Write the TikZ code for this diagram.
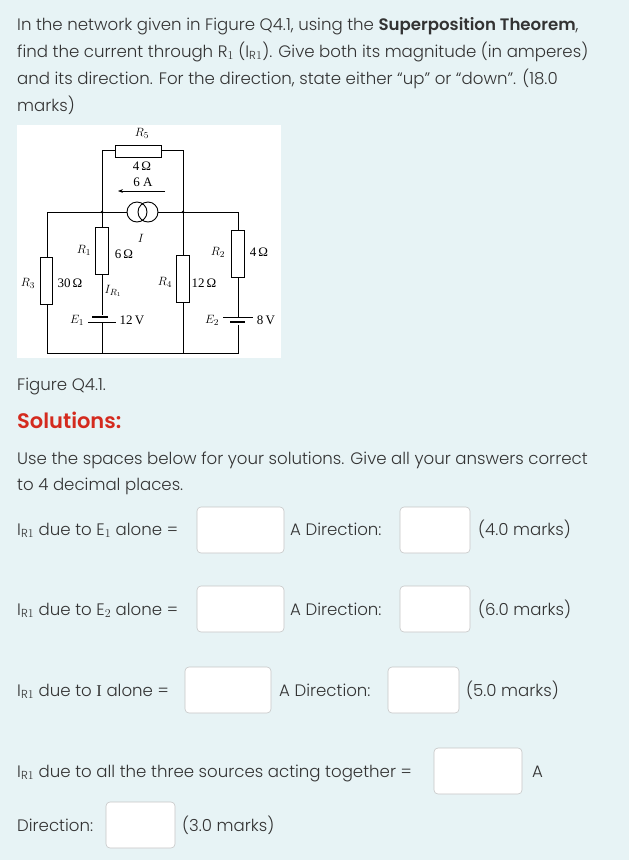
\documentclass[tikz,border=0pt]{standalone}
\usepackage{fontspec}
\setmainfont{Poppins}[UprightFont=*-Light,BoldFont=*-SemiBold]
\newfontfamily\cf{Liberation Serif}
\usetikzlibrary{arrows.meta}
\definecolor{bg}{HTML}{E7F3F5}
\definecolor{solred}{HTML}{D42A1E}
\definecolor{tx}{HTML}{333333}
\begin{document}
\begin{tikzpicture}[x=1pt,y=-1pt,
  txt/.style={anchor=base west,inner sep=0pt,text=tx,font=\fontsize{16.6}{18}\selectfont},
  ans/.style={draw=gray!45,fill=white,rounded corners=4pt,line width=0.6pt},
  lbl/.style={inner sep=0pt,font=\cf\fontsize{13}{14}\selectfont},
  res/.style={draw,line width=0.9pt,fill=white},
  w/.style={line width=0.6pt}]
\fill[bg] (0,0) rectangle (629,860);
\useasboundingbox (0,0) rectangle (629,860);
\node[txt] (p1) at (17,30) {In the network given in Figure Q4.1, using the \textbf{Superposition Theorem},};
\node[txt] (p2) at (17,57) {find the current through R$_1$ (I$_{\mathrm{R}1}$). Give both its magnitude (in amperes)};
\node[txt] (p3) at (17,84) {and its direction. For the direction, state either ``up'' or ``down''. (18.0};
\node[txt] (p4) at (17,111) {marks)};
% circuit
\fill[white] (17,125) rectangle (281,358);
\draw[w] (102,212)--(102,150)--(115,150) (161,150)--(183,150)--(183,212);
\draw[w] (131,212)--(47,212)--(47,353)--(238,353)--(238,212)--(153,212);
\draw[w] (102,212)--(102,318) (102,322)--(102,353);
\draw[w] (183,212)--(183,353);
\fill (102,212) circle (1.3) (183,212) circle (1.3);
\draw[res] (115,145) rectangle (161,157);
\draw[res] (95,227) rectangle (108,274);
\draw[res] (40,257) rectangle (52,304);
\draw[res] (176,255) rectangle (189,302);
\draw[res] (231,230) rectangle (244,277);
\fill[white] (236,314) rectangle (240,325);
\draw[w] (238,312)--(238,317);
\fill[white] (98,315) rectangle (106,322);
\draw[line width=2pt] (92,317)--(108,317);
\draw[line width=0.9pt] (88,322)--(116,322);
\draw[line width=0.9pt] (223,317)--(253,317);
\draw[line width=2pt] (230,322)--(245,322);
\draw[res,line width=0.9pt] (137,212) circle (10) (148,212) circle (10);
\draw[w,-{Stealth[length=5pt]}] (165,191)--(118,191);
\node[lbl] (r5) at (142,133) {$R_5$};
\node[lbl] (v5) at (142,166) {4\,Ω};
\node[lbl] (ia) at (143,182) {6 A};
\node[lbl] (ii) at (141,238) {$I$};
\node[lbl] (r1) at (84,250) {$R_1$};
\node[lbl] (v1) at (124,254) {6\,Ω};
\node[lbl] (r3) at (28,283) {$R_3$};
\node[lbl] (v3) at (70,283) {30\,Ω};
\node[lbl] (ir) at (113,291) {$I_{R_1}$};
\node[lbl] (r4) at (165,282) {$R_4$};
\node[lbl] (v4) at (204,283) {12\,Ω};
\node[lbl] (r2) at (218,252) {$R_2$};
\node[lbl] (v2) at (259,252) {4\,Ω};
\node[lbl] (e1) at (77,320) {$E_1$};
\node[lbl] (ve1) at (132,320) {12\,V};
\node[lbl] (e2) at (212,320) {$E_2$};
\node[lbl] (ve2) at (266,320) {8\,V};
%
\node[txt] (fig) at (17,390) {Figure Q4.1.};
\node[txt,text=solred,font=\bfseries\fontsize{21}{24}\selectfont] (sol) at (17,428) {Solutions:};
\node[txt] (u1) at (17,464) {Use the spaces below for your solutions. Give all your answers correct};
\node[txt] (u2) at (17,490) {to 4 decimal places.};
% row1
\node[txt] (a1) at (17,535) {I$_{\mathrm{R}1}$ due to E$_1$ alone =};
\draw[ans] (197,507) rectangle (284,553);
\node[txt] (d1) at (290,535) {A Direction:};
\draw[ans] (400,507) rectangle (470,553);
\node[txt] (m1) at (478,535) {(4.0 marks)};
% row2
\node[txt] (a2) at (17,615) {I$_{\mathrm{R}1}$ due to E$_2$ alone =};
\draw[ans] (197,586) rectangle (284,632);
\node[txt] (d2) at (290,615) {A Direction:};
\draw[ans] (400,586) rectangle (470,632);
\node[txt] (m2) at (478,615) {(6.0 marks)};
% row3
\node[txt] (a3) at (17,696) {I$_{\mathrm{R}1}$ due to {\cf I} alone =};
\draw[ans] (185,667) rectangle (271,713);
\node[txt] (d3) at (279,696) {A Direction:};
\draw[ans] (388,667) rectangle (459,713);
\node[txt] (m3) at (466,696) {(5.0 marks)};
% row4
\node[txt] (a4) at (17,777) {I$_{\mathrm{R}1}$ due to all the three sources acting together =};
\draw[ans] (434,748) rectangle (522,794);
\node[txt] (aa) at (532,777) {A};
% row5
\node[txt] (d5) at (17,831) {Direction:};
\draw[ans] (106,802) rectangle (175,848);
\node[txt] (m5) at (182,831) {(3.0 marks)};
\end{tikzpicture}
\end{document}
